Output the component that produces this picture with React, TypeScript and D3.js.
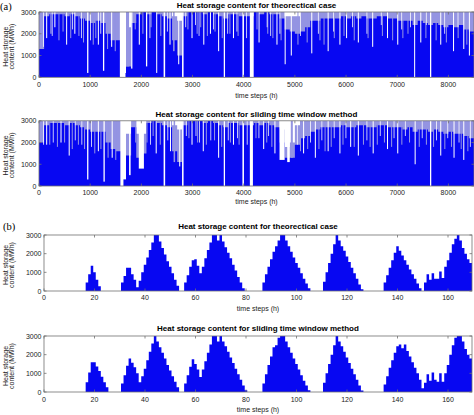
import React from 'react';
import * as d3 from 'd3';

// panel (a): one year in 100 h bins
const binHours = 100;
const yearTicks = [0, 1000, 2000, 3000, 4000, 5000, 6000, 7000, 8000];
const weekTicks = [0, 20, 40, 60, 80, 100, 120, 140, 160];
const storageTicks = [0, 1000, 2000, 3000];

const theoryYearSolid = [
  1300, 2800, 2900, 2900, 2900, 2800, 2900, 2800, 2700, 2600,
  2500, 2600, 2500, 2000, 1700, 1700, 200, 500, 2500, 2900,
  3000, 2900, 3000, 2900, 2800, 2700, 1700, 1000, 2800, 3000,
  3000, 3000, 2900, 3000, 2900, 2800, 2700, 2900, 2900, 2800,
  2800, 2800, 3000, 2900, 3000, 2900, 2900, 2700, 2200, 2100,
  2000, 2100, 2300, 2600, 2600, 2700, 2700, 2700, 2700, 2800,
  2700, 2800, 2700, 2800, 2700, 2700, 2800, 2800, 2700, 2700,
  2600, 2600, 2600, 2400, 2600, 2500, 2400, 2500, 2400, 2300,
  2400, 2300, 2400, 2200, 2100,
];
const theoryYearPeak = [
  3000, 3000, 3000, 3000, 3000, 3000, 3000, 3000, 3000, 3000,
  3000, 3000, 3000, 3000, 3000, 3000, 200, 2300, 3000, 3000,
  3000, 3000, 3000, 3000, 3000, 3000, 2800, 2600, 3000, 3000,
  3000, 3000, 3000, 3000, 3000, 3000, 3000, 3000, 3000, 3000,
  3000, 3000, 3000, 3000, 3000, 3000, 3000, 3000, 2800, 2800,
  2800, 3000, 3000, 3000, 3000, 3000, 3000, 3000, 3000, 3000,
  3000, 3000, 3000, 3000, 3000, 3000, 3000, 3000, 3000, 3000,
  3000, 3000, 3000, 3000, 3000, 3000, 3000, 3000, 3000, 3000,
  3000, 3000, 3000, 3000, 3000,
];
// [from h, to h, lowest content] of the white dips
const theoryYearGaps = [
  [80, 95, 1400], [140, 160, 1800], [250, 265, 1900], [300, 320, 2300],
  [530, 550, 1500], [650, 665, 2200], [690, 710, 2000], [820, 835, 1800],
  [940, 965, 200], [1000, 1015, 1700], [1150, 1170, 1500], [1200, 1215, 2000],
  [1250, 1275, 300], [1410, 1430, 1400], [1580, 1690, 0], [1800, 1825, 400],
  [1950, 1970, 1500], [2090, 2115, 500], [2160, 2175, 1800], [2290, 2310, 200],
  [2435, 2465, 0], [2500, 2515, 2100], [2550, 2570, 1500], [2720, 2740, 600],
  [2795, 2825, 0], [2860, 2875, 2300], [2980, 3000, 1800], [3050, 3065, 2400],
  [3120, 3135, 1900], [3210, 3230, 1500], [3340, 3360, 2000], [3400, 3415, 2200],
  [3500, 3520, 1200], [3610, 3635, 0], [3680, 3695, 2000], [3790, 3810, 1800],
  [3860, 3875, 2100], [3975, 4005, 0], [4050, 4065, 1800], [4120, 4195, 0],
  [4290, 4310, 1600], [4450, 4465, 2300], [4520, 4535, 1900], [4640, 4660, 1500],
  [4700, 4715, 2000], [4800, 4820, 600], [4920, 4940, 1000], [5100, 5115, 1900],
  [5320, 5340, 1100], [5450, 5465, 2000], [5640, 5660, 1200], [5750, 5765, 2100],
  [5870, 5890, 1500], [6000, 6020, 1800], [6120, 6135, 2300], [6230, 6250, 1600],
  [6400, 6415, 2000], [6510, 6530, 1400], [6680, 6695, 2400], [6800, 6820, 1800],
  [7000, 7020, 1500], [7080, 7095, 2200], [7250, 7265, 2300], [7330, 7350, 0],
  [7450, 7470, 1600], [7560, 7575, 2400], [7640, 7665, 0], [7840, 7860, 1500],
  [7920, 7935, 2000], [8090, 8110, 1200], [8180, 8195, 2300], [8290, 8310, 1300],
  [8400, 8420, 1000],
];
// [from h, to h, lowest content] of the pale (thin line) spikes
const theoryYearThin = [
  [220, 245, 2000], [380, 400, 1700], [460, 480, 2100], [610, 630, 1800],
  [770, 790, 1900], [860, 880, 1600], [1050, 1070, 1500], [1100, 1120, 1800],
  [1330, 1350, 1300], [1480, 1500, 1200], [1700, 1760, 500], [1870, 1890, 2200],
  [2020, 2040, 2000], [2180, 2200, 2300], [2370, 2390, 1900], [2620, 2650, 1200],
  [2900, 2920, 2200], [3080, 3100, 2000], [3150, 3170, 2300], [3280, 3300, 1900],
  [3430, 3450, 2100], [3570, 3590, 1800], [3720, 3740, 2000], [3880, 3900, 1900],
  [4250, 4270, 2200], [4460, 4480, 2000], [4560, 4580, 1800], [4720, 4740, 1700],
  [5050, 5070, 1500], [5230, 5250, 1600], [5480, 5500, 1700], [5560, 5580, 1500],
  [5760, 5780, 1800], [5950, 5970, 1900], [6150, 6170, 1700], [6420, 6440, 1800],
  [6700, 6720, 1900], [6900, 6920, 1700], [7100, 7120, 1800], [7200, 7220, 2000],
  [7550, 7570, 1800], [7750, 7770, 1700], [7950, 7970, 1600], [8180, 8200, 1800],
  [8350, 8370, 1500],
];

const slidingYearSolid = [
  2000, 2800, 2900, 2900, 2900, 2800, 2900, 2800, 2700, 2600,
  2500, 2500, 2500, 2000, 1700, 1600, 300, 1400, 2700, 1300,
  1500, 2900, 3000, 2900, 2800, 2700, 1600, 1100, 2800, 3000,
  3000, 3000, 2900, 3000, 2900, 2800, 2700, 2900, 2900, 2800,
  2800, 2800, 2900, 2800, 2900, 2800, 2700, 2000, 1300, 1300,
  1900, 2200, 2300, 2500, 2600, 2700, 2700, 2700, 2700, 2800,
  2700, 2700, 2800, 2800, 2700, 2700, 2800, 2800, 2700, 2700,
  2700, 2600, 2700, 2500, 2600, 2600, 2500, 2600, 2500, 2400,
  2500, 2400, 2400, 2300, 2200,
];
const slidingYearPeak = [
  3000, 3000, 3000, 3000, 3000, 3000, 3000, 3000, 3000, 3000,
  3000, 3000, 3000, 3000, 3000, 3000, 300, 2400, 3000, 2400,
  2400, 3000, 3000, 3000, 3000, 3000, 2800, 2600, 3000, 3000,
  3000, 3000, 3000, 3000, 3000, 3000, 3000, 3000, 3000, 3000,
  3000, 3000, 3000, 3000, 3000, 3000, 3000, 2600, 1800, 2000,
  2800, 3000, 3000, 3000, 3000, 3000, 3000, 3000, 3000, 3000,
  3000, 3000, 3000, 3000, 3000, 3000, 3000, 3000, 3000, 3000,
  3000, 3000, 3000, 3000, 3000, 3000, 3000, 3000, 3000, 3000,
  3000, 3000, 3000, 3000, 3000,
];
const slidingYearGaps = [
  [80, 95, 1900], [140, 160, 1900], [270, 285, 2000], [420, 440, 2000],
  [580, 600, 1400], [700, 715, 2100], [830, 845, 1900], [940, 965, 300],
  [1020, 1035, 1800], [1150, 1170, 1600], [1260, 1285, 200], [1420, 1440, 1300],
  [1590, 1650, 0], [1760, 1790, 500], [1950, 2050, 800], [2170, 2185, 1900],
  [2280, 2300, 1500], [2435, 2465, 0], [2510, 2525, 2100], [2560, 2580, 1600],
  [2740, 2760, 900], [2795, 2825, 0], [2870, 2885, 2300], [2980, 3000, 1900],
  [3060, 3075, 2300], [3130, 3145, 2000], [3200, 3220, 1600], [3350, 3365, 2100],
  [3500, 3520, 1300], [3610, 3635, 0], [3690, 3705, 2100], [3790, 3810, 1900],
  [3870, 3885, 2200], [3975, 4005, 0], [4060, 4075, 1900], [4120, 4180, 0],
  [4290, 4305, 2200], [4380, 4400, 1700], [4480, 4495, 2300], [4600, 4620, 1500],
  [4700, 4800, 1200], [4850, 4900, 1100], [5040, 5055, 1900], [5160, 5180, 1500],
  [5300, 5315, 2000], [5390, 5410, 1300], [5520, 5535, 2100], [5640, 5660, 1600],
  [5760, 5775, 2200], [5870, 5890, 1500], [5990, 6005, 2200], [6080, 6100, 1800],
  [6230, 6250, 1400], [6400, 6415, 2100], [6520, 6540, 1500], [6660, 6675, 2300],
  [6800, 6820, 1700], [6930, 6945, 2200], [7000, 7020, 1500], [7150, 7165, 2300],
  [7340, 7360, 1000], [7480, 7495, 2200], [7640, 7665, 0], [7760, 7775, 2100],
  [7840, 7860, 1400], [7980, 7995, 2200], [8100, 8120, 1300], [8200, 8215, 2000],
  [8290, 8310, 1200], [8420, 8435, 1800],
];
const slidingYearThin = [
  [200, 220, 1900], [350, 370, 1800], [490, 510, 2000], [640, 660, 1700],
  [760, 780, 1900], [880, 900, 1700], [1080, 1100, 1500], [1200, 1220, 1700],
  [1340, 1360, 1300], [1490, 1510, 1200], [1880, 1900, 2000], [2100, 2120, 2000],
  [2220, 2240, 2300], [2360, 2380, 1900], [2630, 2660, 1100], [2920, 2940, 2200],
  [3090, 3110, 2000], [3260, 3280, 1900], [3420, 3440, 2100], [3560, 3580, 1800],
  [3730, 3750, 2000], [3900, 3920, 1900], [4230, 4250, 2200], [4440, 4460, 2000],
  [4540, 4560, 1800], [4920, 4960, 1300], [5100, 5120, 1600], [5240, 5260, 1700],
  [5460, 5480, 1700], [5580, 5600, 1600], [5700, 5720, 1800], [5930, 5950, 1900],
  [6150, 6170, 1800], [6330, 6350, 1900], [6460, 6480, 1800], [6600, 6620, 1900],
  [6740, 6760, 2000], [6880, 6900, 1800], [7080, 7100, 1900], [7230, 7250, 2000],
  [7420, 7440, 1800], [7560, 7580, 1900], [7700, 7720, 1800], [7920, 7940, 1700],
  [8050, 8070, 1800], [8240, 8260, 1700], [8370, 8390, 1600],
];

// panel (b): one week, hourly values (MWh), hour 0..169
const theoryWeek = [
  0, 0, 0, 0, 0, 0, 0, 0, 0, 0, 0, 0, 0, 0, 0, 0, 0,
  450, 900, 1350, 1000, 600, 250,
  0, 0, 0, 0, 0, 0, 0, 0,
  450, 800, 1250, 1250, 900, 600, 200, 550, 1000, 1400, 1800, 2200, 2600, 3000, 3000,
  2650, 2300, 1950, 1600, 1300, 950, 600, 280,
  0, 0,
  450, 850, 1300, 1650, 1700, 1350, 950, 1300, 1750, 2200, 2600, 3000, 3000, 2700, 3000,
  2650, 2350, 2050, 1750, 1400, 1100, 750, 450, 150,
  0, 0, 0, 0, 0, 0, 0,
  450, 900, 1300, 1700, 2100, 2400, 2700, 3000, 3000,
  2700, 2400, 2100, 1800, 1500, 1250, 950, 650, 400, 150,
  0, 0, 0, 0, 0,
  500, 1000, 1500, 2000, 2500, 3000,
  2700, 2400, 2150, 1850, 1550, 1250, 950, 650, 350, 100,
  0, 0, 0, 0, 0, 0, 0, 0,
  450, 850, 1250, 1650, 2050, 2400,
  2150, 1900, 1650, 1400, 1150, 900, 650, 400, 150,
  0,
  450, 900, 600, 950, 650, 650, 1050, 700, 1300, 1650, 2050, 2500, 2800, 3000,
  2700, 2300, 2000, 1700, 1500,
];
const slidingWeek = [
  0, 0, 0, 0, 0, 0, 0, 0, 0, 0, 0, 0, 0, 0, 0, 0, 0,
  520, 1040, 1590, 1590, 1360, 1120, 820, 520, 250,
  0, 0, 0, 0, 0,
  460, 900, 1400, 1800, 1570, 1320, 1000, 520, 850, 1250, 1700, 2150, 2600, 3000,
  2700, 2400, 2100, 1800, 1450, 1150, 850, 550, 250,
  0, 0,
  450, 900, 1350, 1750, 1500, 1200, 800, 1200, 1650, 2100, 2550, 3000, 3000, 2700, 3000,
  2700, 2450, 2150, 1850, 1550, 1250, 950, 650, 350, 100,
  0, 0, 0, 0, 0, 0,
  450, 950, 1450, 1900, 2400, 2500, 2900, 3000, 3000,
  2700, 2400, 2100, 1800, 1500, 1200, 900, 600, 350, 100,
  0, 0, 0, 0, 0,
  500, 1000, 1500, 2000, 2500, 3000,
  2700, 2450, 2150, 1850, 1550, 1250, 950, 650, 350, 80,
  0, 0, 0, 0, 0, 0, 0, 0,
  400, 850, 1300, 1700, 2100, 2450, 2550, 2350, 2550,
  2200, 1900, 1600, 1300, 1000, 650, 200,
  500, 950, 600, 1050, 650, 550, 1000, 550, 1000, 1450, 2000, 2500, 2900, 3000, 3000,
  2700, 2300, 2000, 1800,
];

const W = 474;
const H = 415;
const FONT = 'Liberation Sans, Arial, sans-serif';
const DARK = '#0707f2';
const LIGHT = '#9494e2';
const AXIS = '#707070';

type Box = { left: number; right: number; top: number; bottom: number };

const yearBoxes: Box[] = [
  { left: 39, right: 474, top: 12, bottom: 77.3 },
  { left: 39, right: 474, top: 120.8, bottom: 186 },
];
const weekBoxes: Box[] = [
  { left: 44, right: 472, top: 235, bottom: 291 },
  { left: 44, right: 472, top: 336, bottom: 392 },
];

function Axes(props: {
  box: Box;
  x: d3.ScaleLinear<number, number>;
  y: d3.ScaleLinear<number, number>;
  xTicks: number[];
  title: string;
  titleY: number;
  tickY: number;
  labelY: number;
  ylabX: [number, number];
}) {
  const { box, x, y, xTicks, title, titleY, tickY, labelY, ylabX } = props;
  const tk = 2.5;
  const midY = (box.top + box.bottom) / 2 + 2;
  const midX = (box.left + box.right) / 2;
  return (
    <g>
      <rect x={box.left} y={box.top} width={box.right - box.left} height={box.bottom - box.top}
        fill="none" stroke={AXIS} strokeWidth={0.8} />
      {xTicks.map((t) => (
        <g key={'x' + t}>
          <line x1={x(t)} x2={x(t)} y1={box.bottom} y2={box.bottom - tk} stroke={AXIS} strokeWidth={0.8} />
          <line x1={x(t)} x2={x(t)} y1={box.top} y2={box.top + tk} stroke={AXIS} strokeWidth={0.8} />
          <text x={x(t)} y={tickY} textAnchor="middle" fontSize={7} fill="#222" fontFamily={FONT}>{t}</text>
        </g>
      ))}
      {storageTicks.map((t) => (
        <g key={'y' + t}>
          <line x1={box.left} x2={box.left + tk} y1={y(t)} y2={y(t)} stroke={AXIS} strokeWidth={0.8} />
          <line x1={box.right} x2={box.right - tk} y1={y(t)} y2={y(t)} stroke={AXIS} strokeWidth={0.8} />
          <text x={box.left - 2.5} y={y(t) + 2.5} textAnchor="end" fontSize={7} fill="#222" fontFamily={FONT}>{t}</text>
        </g>
      ))}
      <text x={midX} y={titleY} textAnchor="middle" fontSize={8} fontWeight="bold" fontFamily={FONT}>{title}</text>
      <text x={midX} y={labelY} textAnchor="middle" fontSize={7} fill="#222" fontFamily={FONT}>time steps (h)</text>
      <text transform={`translate(${ylabX[0]},${midY}) rotate(-90)`} textAnchor="middle" fontSize={7} fill="#222" fontFamily={FONT}>Heat storage</text>
      <text transform={`translate(${ylabX[1]},${midY}) rotate(-90)`} textAnchor="middle" fontSize={7} fill="#222" fontFamily={FONT}>content (MWh)</text>
    </g>
  );
}

function YearPanel(props: {
  idx: number; title: string; solid: number[]; peak: number[];
  gaps: number[][]; thin: number[][]; titleY: number; tickY: number; labelY: number;
}) {
  const box = yearBoxes[props.idx];
  const x = d3.scaleLinear().domain([0, 8500]).range([box.left, box.right]);
  const y = d3.scaleLinear().domain([0, 3000]).range([box.bottom, box.top]);
  const step = (vals: number[]) => {
    const pts: [number, number][] = vals.map((v, i) => [i * binHours, v]);
    pts.push([vals.length * binHours, vals[vals.length - 1]]);
    return d3.area<[number, number]>()
      .x((d) => x(d[0]))
      .y0(y(0))
      .y1((d) => y(d[1]))
      .curve(d3.curveStepAfter)(pts) || '';
  };
  const spikes = (list: number[][], fill: string) =>
    list.map((d, i) => (
      <rect key={fill + i} x={x(d[0])} width={x(d[1]) - x(d[0])} y={y(3000)}
        height={y(d[2]) - y(3000)} fill={fill} />
    ));
  const clipId = 'clipY' + props.idx;
  return (
    <g>
      <clipPath id={clipId}>
        <rect x={box.left} y={box.top} width={box.right - box.left} height={box.bottom - box.top} />
      </clipPath>
      <g clipPath={`url(#${clipId})`}>
        <path d={step(props.peak)} fill={LIGHT} />
        <path d={step(props.solid)} fill={DARK} />
        {spikes(props.thin, LIGHT)}
        {spikes(props.gaps, '#fff')}
      </g>
      <Axes box={box} x={x} y={y} xTicks={yearTicks} title={props.title}
        titleY={props.titleY} tickY={props.tickY} labelY={props.labelY} ylabX={[7.7, 13.5]} />
    </g>
  );
}

function WeekPanel(props: { idx: number; title: string; values: number[]; titleY: number; tickY: number; labelY: number }) {
  const box = weekBoxes[props.idx];
  const x = d3.scaleLinear().domain([0, 169.5]).range([box.left, box.right]);
  const y = d3.scaleLinear().domain([0, 3000]).range([box.bottom, box.top]);
  const pts: [number, number][] = props.values.map((v, h) => [h - 0.5, v]);
  pts.push([props.values.length - 0.5, props.values[props.values.length - 1]]);
  const d = d3.area<[number, number]>()
    .x((p) => x(p[0]))
    .y0(y(0))
    .y1((p) => y(p[1]))
    .curve(d3.curveStepAfter)(pts) || '';
  const clipId = 'clipW' + props.idx;
  return (
    <g>
      <clipPath id={clipId}>
        <rect x={box.left} y={box.top} width={box.right - box.left} height={box.bottom - box.top} />
      </clipPath>
      <path d={d} fill={DARK} clipPath={`url(#${clipId})`} />
      <Axes box={box} x={x} y={y} xTicks={weekTicks} title={props.title}
        titleY={props.titleY} tickY={props.tickY} labelY={props.labelY} ylabX={[8.3, 14.3]} />
    </g>
  );
}

export default function App() {
  return (
    <svg width={W} height={H} style={{ position: 'absolute', left: 0, top: 0, background: '#fff' }}>
      <rect width={W} height={H} fill="#fff" />
      <text x={0} y={10} fontSize={10.5} fontFamily="Liberation Serif, Times New Roman, serif">(a)</text>
      <YearPanel idx={0} title="Heat storage content for theorectical case" solid={theoryYearSolid}
        peak={theoryYearPeak} gaps={theoryYearGaps} thin={theoryYearThin}
        titleY={7.5} tickY={86.5} labelY={98} />
      <YearPanel idx={1} title="Heat storage content for sliding time window method" solid={slidingYearSolid}
        peak={slidingYearPeak} gaps={slidingYearGaps} thin={slidingYearThin}
        titleY={116.5} tickY={194.5} labelY={203.5} />
      <text x={3} y={230} fontSize={10.5} fontFamily="Liberation Serif, Times New Roman, serif">(b)</text>
      <WeekPanel idx={0} title="Heat storage content for theorectical case" values={theoryWeek}
        titleY={229} tickY={300} labelY={310.5} />
      <WeekPanel idx={1} title="Heat storage content for sliding time window method" values={slidingWeek}
        titleY={330.5} tickY={402} labelY={412} />
    </svg>
  );
}
